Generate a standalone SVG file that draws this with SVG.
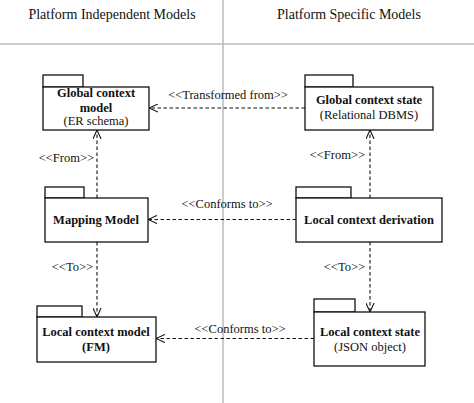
<svg xmlns="http://www.w3.org/2000/svg" width="474" height="403" viewBox="0 0 474 403" font-family="'Liberation Serif', 'DejaVu Serif', serif">
<defs>
<style>
text{font-family:'Liberation Serif','DejaVu Serif',serif;fill:#111}
.h{font-size:14px}
.b{font-size:12.5px;font-weight:bold;text-anchor:middle}
.n{font-size:12.5px;text-anchor:middle}
.l{font-size:12.5px}
.box{fill:#fff;stroke:#111;stroke-width:1.3}
.dash{fill:none;stroke:#111;stroke-width:1.1;stroke-dasharray:3.5,2.5}
.grid{stroke:#bbb;stroke-width:1.5}
</style>
<marker id="arr" viewBox="0 0 10 10" refX="10" refY="5" markerWidth="9" markerHeight="9" markerUnits="userSpaceOnUse" orient="auto">
<path d="M0,0.5 L10,5 L0,9.5" fill="none" stroke="#111" stroke-width="1.2"/>
</marker>
</defs>
<rect width="474" height="403" fill="#fff"/>
<g id="swimlanes">
<line class="grid" x1="223" y1="0" x2="223" y2="403"/>
<line class="grid" x1="0" y1="44" x2="474" y2="44"/>
<text class="h" x="112" y="19" text-anchor="middle">Platform Independent Models</text>
<text class="h" x="349" y="19" text-anchor="middle">Platform Specific Models</text>
</g>
<g id="connectors">
<line class="dash" x1="305" y1="108" x2="149" y2="108" marker-end="url(#arr)"/>
<line class="dash" x1="296" y1="219.5" x2="148" y2="219.5" marker-end="url(#arr)"/>
<line class="dash" x1="314" y1="338.5" x2="156" y2="338.5" marker-end="url(#arr)"/>
<line class="dash" x1="97" y1="198" x2="97" y2="130" marker-end="url(#arr)"/>
<line class="dash" x1="370" y1="198" x2="370" y2="130" marker-end="url(#arr)"/>
<line class="dash" x1="97" y1="242" x2="97" y2="317" marker-end="url(#arr)"/>
<line class="dash" x1="370" y1="242" x2="370" y2="312" marker-end="url(#arr)"/>
<text class="l" x="228" y="99" text-anchor="middle">&lt;&lt;Transformed from&gt;&gt;</text>
<text class="l" x="227" y="208" text-anchor="middle">&lt;&lt;Conforms to&gt;&gt;</text>
<text class="l" x="240" y="333" text-anchor="middle">&lt;&lt;Conforms to&gt;&gt;</text>
<text class="l" x="94" y="162" text-anchor="end">&lt;&lt;From&gt;&gt;</text>
<text class="l" x="365" y="159" text-anchor="end">&lt;&lt;From&gt;&gt;</text>
<text class="l" x="93" y="271" text-anchor="end">&lt;&lt;To&gt;&gt;</text>
<text class="l" x="365" y="271" text-anchor="end">&lt;&lt;To&gt;&gt;</text>
</g>
<g id="global-context-model">
<rect class="box" x="43" y="75" width="40" height="12"/>
<rect class="box" x="43" y="87" width="106" height="43"/>
<text class="b" x="96" y="97">Global context</text>
<text class="b" x="96" y="112">model</text>
<text class="n" x="96" y="125">(ER schema)</text>
</g>
<g id="global-context-state">
<rect class="box" x="305" y="75" width="48" height="12"/>
<rect class="box" x="305" y="87" width="128" height="43"/>
<text class="b" x="369" y="104">Global context state</text>
<text class="n" x="369" y="119">(Relational DBMS)</text>
</g>
<g id="mapping-model">
<rect class="box" x="45" y="187" width="39" height="11"/>
<rect class="box" x="45" y="198" width="103" height="44"/>
<text class="b" x="96" y="224">Mapping Model</text>
</g>
<g id="local-context-derivation">
<rect class="box" x="296" y="187" width="55" height="11"/>
<rect class="box" x="296" y="198" width="146" height="44"/>
<text class="b" x="369" y="224">Local context derivation</text>
</g>
<g id="local-context-model">
<rect class="box" x="37" y="306" width="45" height="11"/>
<rect class="box" x="37" y="317" width="119" height="45"/>
<text class="b" x="96" y="336">Local context model</text>
<text class="b" x="96" y="351">(FM)</text>
</g>
<g id="local-context-state">
<rect class="box" x="314" y="299" width="41" height="13"/>
<rect class="box" x="314" y="312" width="111" height="54"/>
<text class="b" x="370" y="336">Local context state</text>
<text class="n" x="370" y="351">(JSON object)</text>
</g>
</svg>
